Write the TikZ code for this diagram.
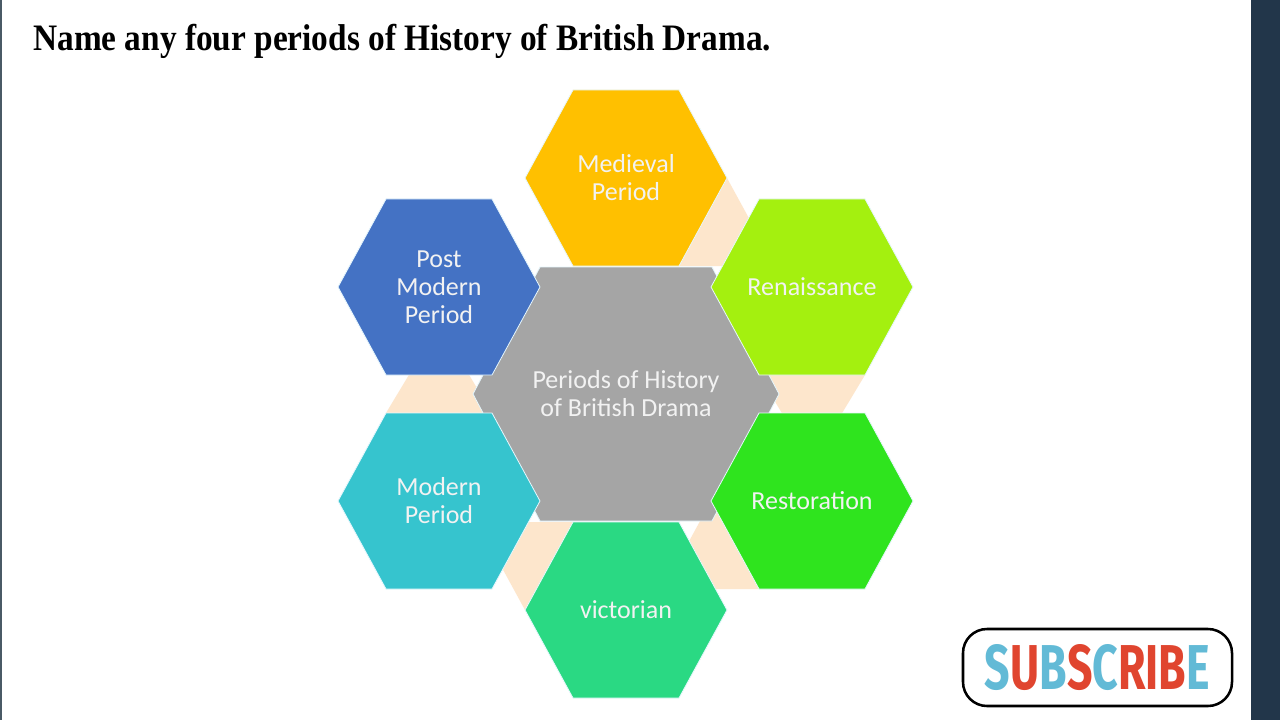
\documentclass[tikz,border=0pt]{standalone}
\usepackage{fontspec}
\setmainfont{Carlito}
\newfontfamily\titlefont{Liberation Serif}
\newfontfamily\subfont{Fira Sans}
\definecolor{barcol}{HTML}{22364A}
\definecolor{edgecol}{HTML}{4A5A66}
\definecolor{peach}{HTML}{FDE6CC}
\definecolor{cmed}{HTML}{FFC000}
\definecolor{cren}{HTML}{A4F00F}
\definecolor{cres}{HTML}{2FE41E}
\definecolor{cvic}{HTML}{2AD983}
\definecolor{cmod}{HTML}{36C4CE}
\definecolor{cpost}{HTML}{4472C4}
\definecolor{cgray}{HTML}{A5A5A5}
\definecolor{sblue}{HTML}{62BAD6}
\definecolor{sred}{HTML}{E0452F}
\newcommand{\myhexa}[6]{\filldraw[hexstyle,fill=#6] (#1+#3,#2) -- (#1+#4,#2+#5) -- (#1-#4,#2+#5) -- (#1-#3,#2) -- (#1-#4,#2-#5) -- (#1+#4,#2-#5) -- cycle;}
\tikzset{
  hexstyle/.style={draw=white!90!cyan, line width=0.6pt},
  lbl/.style={text=white!95!black, align=center, inner sep=0pt, font=\fontsize{19.5}{21}\selectfont},
  beigetri/.style={fill=peach},
}
\begin{document}
\begin{tikzpicture}[x=0.75pt,y=-0.75pt]
\useasboundingbox (0,0) rectangle (1280,720);
\fill[white] (0,0) rectangle (1280,720);
\fill[barcol] (1251,0) rectangle (1280,720);
\fill[edgecol] (0,0) rectangle (2,720);
% title
\node[anchor=base west, inner sep=0pt, font=\titlefont\bfseries\fontsize{25}{30}\selectfont] (title) at (33,51) {\scalebox{1}[1.12]{Name any four periods of History of British Drama.}};
% beige connectors
\fill[beigetri] (727,178) -- (679,266) -- (775,266) -- cycle;
\fill[beigetri] (759,375) -- (865,375) -- (812,463) -- cycle;
\fill[beigetri] (711,501) -- (759,589) -- (663,589) -- cycle;
\fill[beigetri] (525,610) -- (573,522) -- (477,522) -- cycle;
\fill[beigetri] (386,413) -- (492,413) -- (439,325) -- cycle;
% hexagons
\myhexa{626}{394}{153}{86}{127}{cgray}
\myhexa{626}{178}{101}{53}{88}{cmed}
\myhexa{812}{287}{101}{53}{88}{cren}
\myhexa{812}{501}{101}{53}{88}{cres}
\myhexa{626}{610}{101}{53}{88}{cvic}
\myhexa{439}{501}{101}{53}{88}{cmod}
\myhexa{439}{287}{101}{53}{88}{cpost}
% labels
\node[lbl] (center) at (626,394) {Periods of History\\of British Drama};
\node[lbl] (med) at (626,178) {Medieval\\Period};
\node[lbl] (ren) at (812,287) {Renaissance};
\node[lbl] (res) at (812,501) {Restoration};
\node[lbl] (vic) at (626,610) {victorian};
\node[lbl] (mod) at (439,501) {Modern\\Period};
\node[lbl] (post) at (439,287) {Post\\Modern\\Period};
% subscribe
\draw[line width=1.9pt, rounded corners=18pt] (963,629) rectangle (1232,706);
\node[inner sep=0pt] (sub) at (1097.5,667.5) {\resizebox{168.75pt}{33.75pt}{\subfont\bfseries\textcolor{sblue}{S}\textcolor{sred}{U}\textcolor{sblue}{B}\textcolor{sred}{S}\textcolor{sblue}{C}\textcolor{sred}{RIB}\textcolor{sblue}{E}}};
\end{tikzpicture}
\end{document}
